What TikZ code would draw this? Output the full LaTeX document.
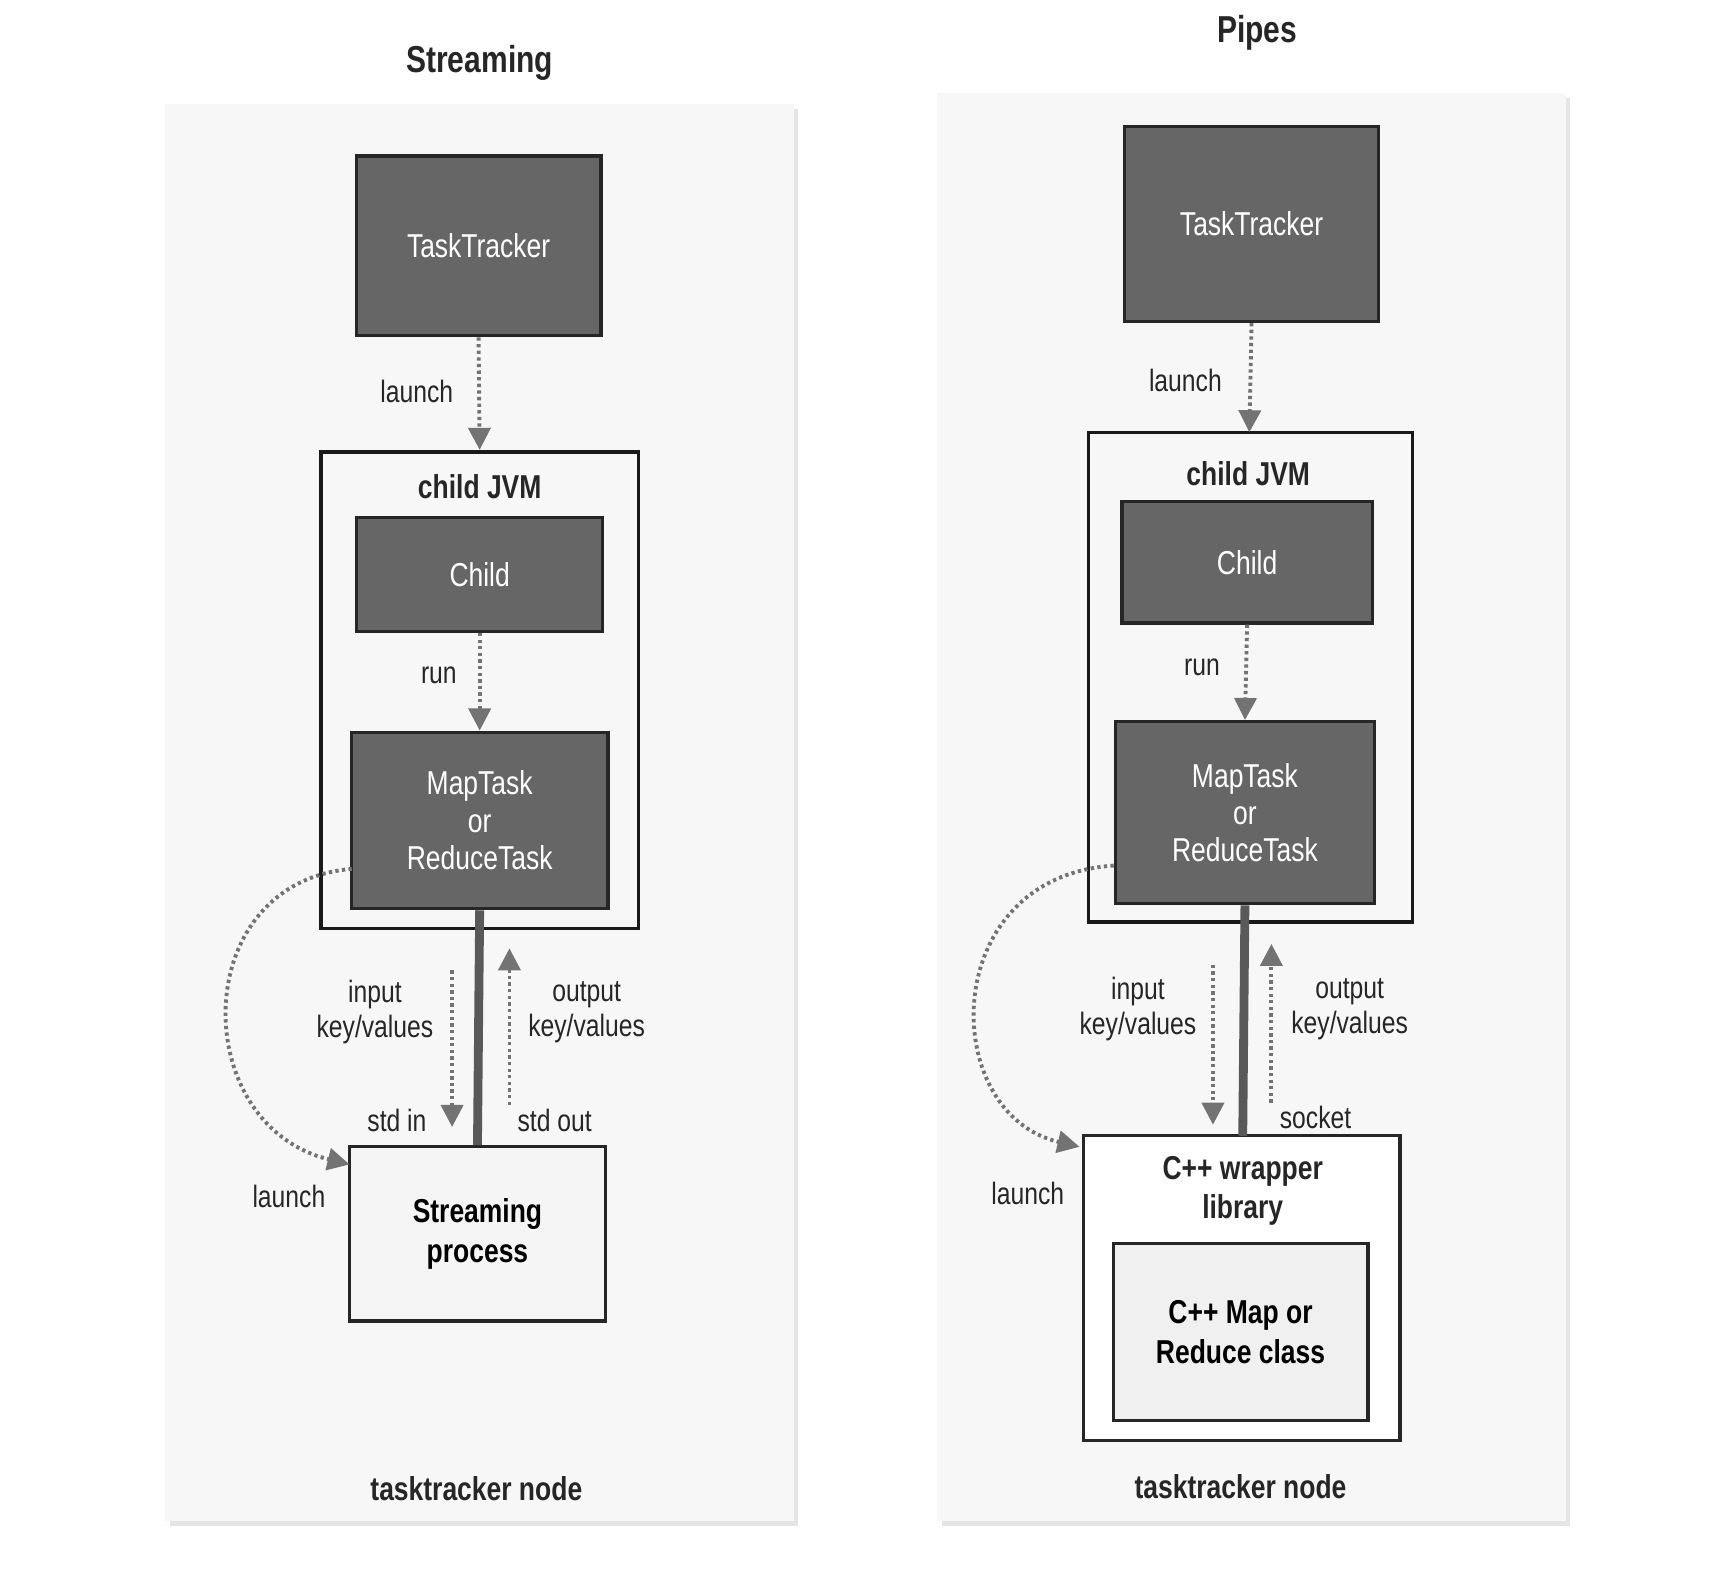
\documentclass[tikz,border=0pt]{standalone}
\usepackage{fontspec}
\setmainfont{Liberation Sans}[FakeStretch=0.8]
\usetikzlibrary{arrows.meta,shadows}
\begin{document}
\begin{tikzpicture}[x=1pt,y=-1pt,
  panel/.style={fill=gray!6,draw=none,drop shadow={shadow xshift=4pt,shadow yshift=-4pt,fill=gray!40}},
  dark/.style={draw=black!85,line width=3pt,fill=gray!80!black,text=white,font=\fontsize{30}{34}\selectfont,align=center,inner sep=0pt},
  light/.style={draw=black!85,line width=3pt,fill=gray!8,font=\bfseries\fontsize{30}{36}\selectfont,align=center,inner sep=0pt},
  frame/.style={draw=black!90,line width=3pt,fill=none},
  lbl/.style={font=\fontsize{28}{32}\selectfont,align=center,text=black!85},
  ttl/.style={font=\bfseries\fontsize{34}{40}\selectfont,text=black!85},
  dot/.style={draw=gray!90!black,line width=3.5pt,dash pattern=on 3pt off 3pt,-{Triangle[length=20pt,width=20pt,fill=gray!90!black]}},
  thick/.style={draw=gray!70!black,line width=8pt}]
\useasboundingbox (0,0) rectangle (1568,1426);
\fill[white] (0,0) rectangle (1568,1426);
% panels
\node[panel,minimum width=570pt,minimum height=1285pt,inner sep=0pt] (pl) at (435,737) {};
\node[panel,minimum width=570pt,minimum height=1295pt,inner sep=0pt] (pr) at (1135,732) {};
\node[ttl] (tl) at (435,57) {Streaming};
\node[ttl] (tr) at (1140,30) {Pipes};
% LEFT
\node[dark,minimum width=222pt,minimum height=163pt] (tt1) at (434,223) {TaskTracker};
\draw[frame] (291,410) rectangle (579,842);
\node[lbl,font=\bfseries\fontsize{30}{34}\selectfont] (jvm1) at (435,441) {child JVM};
\node[dark,minimum width=223pt,minimum height=103pt] (ch1) at (435,521) {Child};
\node[dark,minimum width=233pt,minimum height=160pt] (mt1) at (435,744) {MapTask\\or\\ReduceTask};
\node[light,minimum width=232pt,minimum height=158pt] (sp) at (433,1119) {Streaming\\process};
\coordinate (jvm1top) at (435,408);
\draw[dot] (tt1.south) -- (jvm1top);
\node[lbl] (la1) at (378,355) {launch};
\draw[dot] (ch1.south) -- (mt1.north);
\node[lbl] (ru1) at (398,612) {run};
\draw[thick] (mt1.south) -- (sp.north);
\coordinate (i1a) at (410,880); \coordinate (i1b) at (410,1022);
\draw[dot] (i1a) -- (i1b);
\coordinate (o1a) at (462,1002); \coordinate (o1b) at (462,860);
\draw[dot] (o1a) -- (o1b);
\node[lbl] (in1) at (340,918) {input\\key/values};
\node[lbl] (ou1) at (532,918) {output\\key/values};
\node[lbl] (si) at (360,1016) {std in};
\node[lbl] (so) at (503,1016) {std out};
\coordinate (c1a) at (319,788); \coordinate (c1b) at (317,1056);
\draw[dot] (c1a) .. controls (170,800) and (170,1020) .. (c1b);
\node[lbl] (la1b) at (262,1085) {launch};
\node[ttl,font=\bfseries\fontsize{30}{36}\selectfont] (tn1) at (432,1350) {tasktracker node};
% RIGHT
\node[dark,minimum width=230pt,minimum height=177pt] (tt2) at (1135,203) {TaskTracker};
\draw[frame] (987,392) rectangle (1281,836);
\node[lbl,font=\bfseries\fontsize{30}{34}\selectfont] (jvm2) at (1132,430) {child JVM};
\node[dark,minimum width=227pt,minimum height=110pt] (ch2) at (1131,510) {Child};
\node[dark,minimum width=235pt,minimum height=165pt] (mt2) at (1129,737) {MapTask\\or\\ReduceTask};
\node[light,fill=white,minimum width=287pt,minimum height=277pt] (cw) at (1126,1168) {};
\node[lbl,font=\bfseries\fontsize{30}{36}\selectfont] (cwl) at (1127,1080) {C++ wrapper\\library};
\node[light,fill=gray!12,minimum width=231pt,minimum height=160pt] (cm) at (1125,1208) {C++ Map or\\Reduce class};
\coordinate (jvm2top) at (1133,392);
\draw[dot] (tt2.south) -- (jvm2top);
\node[lbl] (la2) at (1075,345) {launch};
\draw[dot] (ch2.south) -- (mt2.north);
\node[lbl] (ru2) at (1090,605) {run};
\coordinate (cwtop) at (1127,1030);
\draw[thick] (mt2.south) -- (cwtop);
\coordinate (i2a) at (1100,875); \coordinate (i2b) at (1100,1020);
\draw[dot] (i2a) -- (i2b);
\coordinate (o2a) at (1153,1000); \coordinate (o2b) at (1153,856);
\draw[dot] (o2a) -- (o2b);
\node[lbl] (in2) at (1032,915) {input\\key/values};
\node[lbl] (ou2) at (1224,915) {output\\key/values};
\node[lbl] (sk) at (1193,1013) {socket};
\coordinate (c2a) at (1010,785); \coordinate (c2b) at (979,1040);
\draw[dot] (c2a) .. controls (850,795) and (850,1010) .. (c2b);
\node[lbl] (la2b) at (932,1082) {launch};
\node[ttl,font=\bfseries\fontsize{30}{36}\selectfont] (tn2) at (1125,1348) {tasktracker node};
\end{tikzpicture}
\end{document}
